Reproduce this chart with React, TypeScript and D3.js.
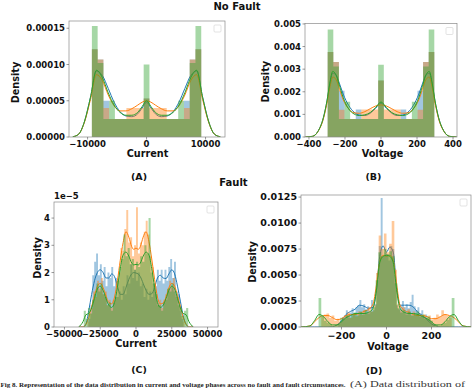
import React from "react";
import * as d3 from "d3";

const COLORS = ["#1f77b4", "#ff7f0e", "#2ca02c"];
const FONT = "DejaVu Sans, Verdana, sans-serif";

// ---------- (A) No fault, current — density in units of 1e-6
const binsA = [-9270, 9270];
const histA_blue = [121, 107, 50, 25, 25, 25, 25, 25, 25, 53, 25, 25, 25, 25, 25, 25, 50, 107, 121];
const histA_orange = [121, 107, 40, 25, 25, 25, 40, 40, 40, 53, 40, 40, 40, 25, 25, 25, 40, 107, 121];
const histA_green = [153, 102, 25, 50, 25, 25, 25, 25, 25, 100, 25, 25, 25, 25, 25, 50, 25, 102, 153];
const kdeXA = [-12500, -11500, -10500, -9500, -8500, -7500, -6500, -5500, -4500, -3500, -2500, -1500, -750, 0,
  750, 1500, 2500, 3500, 4500, 5500, 6500, 7500, 8500, 9500, 10500, 11500, 12500];
const kdeA_blue = [0.3, 4, 22, 55, 91, 85, 67, 48, 35, 29, 28, 32, 40, 48, 40, 32, 28, 29, 35, 48, 67, 85, 91, 55, 22, 4, 0.3];
const kdeA_orange = [0.3, 4, 21, 52, 86, 78, 58, 43, 36, 36, 39, 44, 48, 50, 48, 44, 39, 36, 36, 43, 58, 78, 86, 52, 21, 4, 0.3];
const kdeA_green = [0.3, 4, 22, 55, 92, 82, 61, 44, 34, 30, 30, 34, 42, 50, 42, 34, 30, 30, 34, 44, 61, 82, 92, 55, 22, 4, 0.3];
const xTicksA = [-10000, 0, 10000];
const xLabelsA = ["\u221210000", "0", "10000"];
const yTicksA = [0, 50, 100, 150];
const yLabelsA = ["0.00000", "0.00005", "0.00010", "0.00015"];

// ---------- (B) No fault, voltage — density in units of 1e-3
const binsB = [-296, 296];
const histB_blue = [3.76, 3.32, 2.05, 0.8, 0.8, 1.22, 0.8, 0.8, 0.8, 2.5, 0.8, 0.8, 0.8, 1.22, 0.8, 0.8, 2.05, 3.32, 3.76];
const histB_orange = [3.76, 3.32, 1.2, 0.8, 0.8, 0.8, 1.22, 1.22, 1.22, 2.5, 1.22, 1.22, 1.22, 0.8, 0.8, 0.8, 1.2, 3.32, 3.76];
const histB_green = [4.76, 3.12, 0.8, 1.56, 0.8, 0.8, 0.8, 0.8, 0.8, 3.2, 0.8, 0.8, 0.8, 0.8, 0.8, 1.56, 0.8, 3.12, 4.76];
const kdeXB = [-420, -380, -350, -320, -300, -285, -268, -250, -230, -210, -180, -150, -120, -90, -60, -30, 0,
  30, 60, 90, 120, 150, 180, 210, 230, 250, 268, 285, 300, 320, 350, 380, 420];
const kdeB_blue = [0, 0.03, 0.25, 0.85, 1.58, 2.3, 2.82, 2.75, 2.35, 1.9, 1.4, 1.1, 0.97, 0.95, 1.05, 1.27, 1.5,
  1.27, 1.05, 0.95, 0.97, 1.1, 1.4, 1.9, 2.35, 2.75, 2.82, 2.3, 1.58, 0.85, 0.25, 0.03, 0];
const kdeB_orange = [0, 0.03, 0.24, 0.8, 1.5, 2.15, 2.65, 2.55, 2.1, 1.65, 1.25, 1.07, 1.05, 1.12, 1.25, 1.37, 1.42,
  1.37, 1.25, 1.12, 1.05, 1.07, 1.25, 1.65, 2.1, 2.55, 2.65, 2.15, 1.5, 0.8, 0.24, 0.03, 0];
const kdeB_green = [0, 0.03, 0.25, 0.85, 1.6, 2.35, 2.9, 2.75, 2.25, 1.75, 1.25, 1.02, 0.95, 0.98, 1.08, 1.3, 1.55,
  1.3, 1.08, 0.98, 0.95, 1.02, 1.25, 1.75, 2.25, 2.75, 2.9, 2.35, 1.6, 0.85, 0.25, 0.03, 0];
const xTicksB = [-400, -200, 0, 200, 400];
const xLabelsB = ["\u2212400", "\u2212200", "0", "200", "400"];
const yTicksB = [0, 1, 2, 3, 4, 5];
const yLabelsB = ["0.000", "0.001", "0.002", "0.003", "0.004", "0.005"];

// ---------- (C) Fault, current — density in units of 1e-5
const binsC_blue = [-33200, 33200];
const binsC_orange = [-34000, 34000];
const binsC_green = [-36500, 36500];
const histC_blue = [0.3, 0.8, 1.9, 2.4, 2.7, 1.9, 2.3, 1.7, 2.2, 1.5, 2.0, 1.8, 2.2, 1.5, 1.8, 1.1, 1.3, 1.0, 1.5, 1.2,
  1.9, 1.6, 2.3, 1.8, 2.1, 1.7, 2.0, 1.5, 1.6, 1.1, 1.4, 1.0, 1.3, 1.1, 1.6, 1.5, 2.1, 1.7, 2.1, 1.6,
  2.1, 1.7, 2.2, 2.5, 1.8, 2.4, 1.3, 1.2, 0.6, 0.3];
const histC_orange = [0.2, 0.5, 0.7, 1.3, 1.1, 1.7, 1.4, 1.8, 1.2, 1.3, 0.8, 1.0, 0.7, 1.0, 1.1, 1.7, 2.0, 2.9, 2.8, 3.6,
  4.3, 3.1, 3.3, 2.6, 3.0, 4.4, 2.7, 3.1, 3.0, 3.5, 3.9, 3.4, 2.6, 2.2, 1.6, 1.2, 0.9, 1.0, 0.7, 1.0,
  1.2, 1.4, 1.7, 1.5, 1.8, 1.2, 1.1, 0.8, 0.4, 0.2];
const histC_green = [0.6, 0.3, 0.7, 0.5, 1.0, 1.2, 1.6, 1.3, 1.6, 1.2, 1.1, 0.8, 0.9, 0.6, 0.9, 1.1, 1.7, 2.2, 2.5, 3.4,
  2.6, 2.9, 2.3, 2.5, 2.1, 2.4, 2.2, 2.6, 2.4, 3.0, 2.7, 4.0, 2.0, 1.6, 1.2, 0.8, 0.8, 0.6, 0.9, 1.0,
  1.4, 1.3, 1.6, 1.3, 1.1, 0.8, 0.7, 0.4, 0.6, 0.7];
const kdeXC = [-40000, -37000, -35000, -33000, -31000, -29000, -27000, -25000, -23000, -21000, -19000, -17000,
  -15000, -13000, -11000, -9000, -7000, -5000, -3000, -1500, 0, 1500, 3000, 5000, 7000, 9000, 11000, 13000,
  15000, 17000, 19000, 21000, 23000, 25000, 27000, 29000, 31000, 33000, 35000, 37000, 40000];
const kdeC_blue = [0, 0, 0.1, 0.6, 1.2, 1.7, 2.0, 2.1, 2.0, 1.8, 1.8, 1.95, 1.85, 1.5, 1.2, 1.2, 1.45, 1.75, 1.95, 2.0,
  1.98, 1.95, 1.85, 1.6, 1.35, 1.2, 1.22, 1.45, 1.8, 1.9, 1.8, 1.78, 1.95, 2.1, 1.95, 1.5, 0.95, 0.4, 0.1, 0, 0];
const kdeC_orange = [0, 0, 0.1, 0.35, 0.75, 1.15, 1.5, 1.6, 1.45, 1.15, 0.9, 0.85, 1.1, 1.7, 2.45, 3.1, 3.5, 3.3, 2.95,
  2.85, 2.9, 2.85, 2.95, 3.3, 3.5, 3.15, 2.5, 1.75, 1.1, 0.85, 0.88, 1.1, 1.45, 1.6, 1.5, 1.15, 0.75, 0.35, 0.1, 0, 0];
const kdeC_green = [0, 0.2, 0.45, 0.5, 0.7, 1.05, 1.4, 1.5, 1.35, 1.05, 0.8, 0.72, 0.9, 1.45, 2.15, 2.65, 2.75, 2.6,
  2.35, 2.28, 2.3, 2.28, 2.35, 2.6, 2.75, 2.65, 2.15, 1.45, 0.9, 0.72, 0.8, 1.05, 1.35, 1.5, 1.4, 1.05, 0.7, 0.5,
  0.45, 0.2, 0];
const xTicksC = [-50000, -25000, 0, 25000, 50000];
const xLabelsC = ["\u221250000", "\u221225000", "0", "25000", "50000"];
const yTicksC = [0, 1, 2, 3, 4];
const yLabelsC = ["0", "1", "2", "3", "4"];

// ---------- (D) Fault, voltage — density in units of 1e-4
const binsD_blue = [-215, 215];
const binsD_orange = [-290, 290];
const binsD_green = [-302, 302];
const histD_blue = [3, 6, 9, 11, 16, 12, 14, 18, 13, 19, 21, 26, 19, 22, 17, 20, 15, 26, 16, 22,
  52, 78, 124, 68, 72, 70, 64, 78, 75, 50, 21, 17, 20, 25, 19, 22, 18, 24, 31, 20,
  16, 19, 13, 16, 10, 12, 7, 9, 5, 3];
const histD_orange = [10, 12, 13, 9, 11, 6, 8, 5, 9, 11, 14, 9, 13, 10, 15, 12, 16, 13, 19, 15,
  21, 52, 88, 75, 90, 72, 80, 102, 55, 22, 16, 19, 14, 17, 12, 15, 11, 13, 10, 12,
  9, 11, 7, 9, 12, 10, 16, 12, 11, 9];
const histD_green = [28, 11, 6, 4, 3, 1, 2, 3, 9, 8, 11, 9, 12, 14, 11, 15, 12, 16, 13, 15,
  19, 45, 72, 68, 75, 70, 73, 68, 42, 18, 14, 16, 12, 15, 11, 13, 15, 10, 12, 8,
  10, 6, 3, 2, 1, 3, 4, 7, 10, 28];
const kdeXD = [-380, -340, -320, -300, -280, -260, -240, -220, -200, -180, -160, -140, -120, -100, -80, -60, -45,
  -30, -15, 0, 15, 30, 45, 60, 80, 100, 120, 140, 160, 180, 200, 220, 240, 260, 280, 300, 320, 340, 380];
const kdeD_blue = [0, 0, 0, 0, 0, 0, 0.3, 2, 6, 12, 15, 17, 21, 20, 18, 19, 35, 68, 78, 72, 77, 72, 38, 21, 21, 21,
  19, 14, 11, 7, 3, 1, 0, 0, 0, 0, 0, 0, 0];
const kdeD_orange = [0, 1, 5, 9, 11, 11, 9, 7, 8, 11, 12, 12, 13, 15, 17, 22, 40, 63, 69, 68, 69, 64, 41, 21, 16, 14,
  12, 11, 11, 10, 8, 8, 10, 12, 11, 9, 5, 1, 0];
const kdeD_green = [0, 1, 6, 12, 10, 5, 2, 2, 5, 9, 11, 13, 13, 13, 14, 18, 35, 62, 68, 69, 68, 62, 36, 18, 14, 13,
  13, 12, 10, 8, 5, 2, 2, 5, 10, 12, 6, 1, 0];
const xTicksD = [-200, 0, 200];
const xLabelsD = ["\u2212200", "0", "200"];
const yTicksD = [0, 25, 50, 75, 100, 125];
const yLabelsD = ["0.0000", "0.0025", "0.0050", "0.0075", "0.0100", "0.0125"];

type PanelSpec = {
  id: string;
  l: number; r: number; t: number; b: number;
  xDomain: [number, number]; yDomain: [number, number];
  xTicks: number[]; xLabels: string[]; yTicks: number[]; yLabels: string[];
  ranges: number[][]; hists: number[][];
  kdeX: number[]; kdes: number[][];
  xLabel: string; xLabelX: number; xLabelY: number;
  yLabelX: number; yLabelY: number;
  xTickY: number; tickSize: number;
  tag: string; tagX: number; tagY: number;
  offsetText?: string;
};

const panels: PanelSpec[] = [
  {
    id: "A", l: 69, r: 225, t: 21, b: 137, xDomain: [-13150, 13300], yDomain: [0, 160],
    xTicks: xTicksA, xLabels: xLabelsA, yTicks: yTicksA, yLabels: yLabelsA,
    ranges: [binsA, binsA, binsA], hists: [histA_blue, histA_orange, histA_green],
    kdeX: kdeXA, kdes: [kdeA_blue, kdeA_orange, kdeA_green],
    xLabel: "Current", xLabelX: 147.5, xLabelY: 156.5, yLabelX: 19, yLabelY: 82.5,
    xTickY: 146.5, tickSize: 8.5, tag: "(A)", tagX: 139, tagY: 180,
  },
  {
    id: "B", l: 305, r: 457, t: 23.5, b: 137, xDomain: [-422, 422], yDomain: [0, 5.02],
    xTicks: xTicksB, xLabels: xLabelsB, yTicks: yTicksB, yLabels: yLabelsB,
    ranges: [binsB, binsB, binsB], hists: [histB_blue, histB_orange, histB_green],
    kdeX: kdeXB, kdes: [kdeB_blue, kdeB_orange, kdeB_green],
    xLabel: "Voltage", xLabelX: 382.5, xLabelY: 157, yLabelX: 269, yLabelY: 81.7,
    xTickY: 147, tickSize: 8.5, tag: "(B)", tagX: 373.5, tagY: 180,
  },
  {
    id: "C", l: 54, r: 218, t: 202, b: 327, xDomain: [-57300, 57300], yDomain: [0, 4.59],
    xTicks: xTicksC, xLabels: xLabelsC, yTicks: yTicksC, yLabels: yLabelsC,
    ranges: [binsC_blue, binsC_orange, binsC_green], hists: [histC_blue, histC_orange, histC_green],
    kdeX: kdeXC, kdes: [kdeC_blue, kdeC_orange, kdeC_green],
    xLabel: "Current", xLabelX: 136, xLabelY: 347, yLabelX: 40.5, yLabelY: 258,
    xTickY: 336.5, tickSize: 8.5, tag: "(C)", tagX: 139, tagY: 373, offsetText: "1e\u22125",
  },
  {
    id: "D", l: 301, r: 471, t: 195, b: 327, xDomain: [-380, 375.6], yDomain: [0, 127],
    xTicks: xTicksD, xLabels: xLabelsD, yTicks: yTicksD, yLabels: yLabelsD,
    ranges: [binsD_blue, binsD_orange, binsD_green], hists: [histD_blue, histD_orange, histD_green],
    kdeX: kdeXD, kdes: [kdeD_blue, kdeD_orange, kdeD_green],
    xLabel: "Voltage", xLabelX: 388, xLabelY: 349.5, yLabelX: 255.5, yLabelY: 262,
    xTickY: 339, tickSize: 9.5, tag: "(D)", tagX: 374, tagY: 374,
  },
];

function stepPath(range: number[], values: number[], x: d3.ScaleLinear<number, number>, y: d3.ScaleLinear<number, number>) {
  const n = values.length;
  const w = (range[1] - range[0]) / n;
  const p = d3.path();
  p.moveTo(x(range[0]), y(0));
  values.forEach((v, i) => {
    p.lineTo(x(range[0] + i * w), y(v));
    p.lineTo(x(range[0] + (i + 1) * w), y(v));
  });
  p.lineTo(x(range[1]), y(0));
  p.closePath();
  return p.toString();
}

const Panel: React.FC<{ p: PanelSpec }> = ({ p }) => {
  const x = d3.scaleLinear().domain(p.xDomain).range([p.l, p.r]);
  const y = d3.scaleLinear().domain(p.yDomain).range([p.b, p.t]);
  const line = d3
    .line<[number, number]>()
    .x((d) => x(d[0]))
    .y((d) => y(d[1]))
    .curve(d3.curveMonotoneX);
  const clipId = `clip-${p.id}`;

  return (
    <g>
      <defs>
        <clipPath id={clipId}>
          <rect x={p.l} y={p.t} width={p.r - p.l} height={p.b - p.t} />
        </clipPath>
      </defs>
      <g clipPath={`url(#${clipId})`}>
        {p.hists.map((h, si) => (
          <g key={si}>
            <path d={stepPath(p.ranges[si], h, x, y)} fill={COLORS[si]} fillOpacity={0.42} />
            <path
              d={line(p.kdeX.map((xx, k) => [xx, p.kdes[si][k]]) as [number, number][]) || ""}
              fill="none"
              stroke={COLORS[si]}
              strokeWidth={1}
            />
          </g>
        ))}
      </g>
      <rect x={p.l} y={p.t} width={p.r - p.l} height={p.b - p.t} fill="none" stroke="#8a8a8a" strokeWidth={0.7} />
      {/* empty legend box */}
      <rect x={p.r - 11} y={p.t + 4} width={7} height={7} rx={1} fill="white" stroke="#d0d0d0" strokeWidth={0.6} />
      {p.xTicks.map((t, i) => (
        <g key={`x${i}`}>
          <line x1={x(t)} x2={x(t)} y1={p.b} y2={p.b + 2.5} stroke="#555" strokeWidth={0.6} />
          <text x={x(t)} y={p.xTickY} textAnchor="middle" fontSize={p.tickSize} fontWeight="bold" fontFamily={FONT} fill="#111">
            {p.xLabels[i]}
          </text>
        </g>
      ))}
      {p.yTicks.map((t, i) => (
        <g key={`y${i}`}>
          <line x1={p.l - 2.5} x2={p.l} y1={y(t)} y2={y(t)} stroke="#555" strokeWidth={0.6} />
          <text x={p.l - 4} y={y(t)} dy="0.36em" textAnchor="end" fontSize={p.tickSize} fontWeight="bold" fontFamily={FONT} fill="#111">
            {p.yLabels[i]}
          </text>
        </g>
      ))}
      {p.offsetText && (
        <text x={p.l} y={p.t - 3} fontSize={p.tickSize} fontWeight="bold" fontFamily={FONT} fill="#111">
          {p.offsetText}
        </text>
      )}
      <text x={p.xLabelX} y={p.xLabelY} textAnchor="middle" fontSize={9.7} fontWeight="bold" fontFamily={FONT} fill="#111">
        {p.xLabel}
      </text>
      <text
        transform={`translate(${p.yLabelX},${p.yLabelY}) rotate(-90)`}
        textAnchor="middle"
        fontSize={9.7}
        fontWeight="bold"
        fontFamily={FONT}
        fill="#111"
      >
        Density
      </text>
      <text x={p.tagX} y={p.tagY} textAnchor="middle" fontSize={9.5} fontWeight="bold" fontFamily={FONT} fill="#111">
        {p.tag}
      </text>
    </g>
  );
};

export default function App() {
  return (
    <svg
      width={474}
      height={389}
      viewBox="0 0 474 389"
      style={{ position: "absolute", left: 0, top: 0, background: "white" }}
    >
      <rect width={474} height={389} fill="white" />
      <text x={237} y={9.5} textAnchor="middle" fontSize={10} fontWeight="bold" fontFamily={FONT} fill="#111">
        No Fault
      </text>
      <text x={233.5} y={186} textAnchor="middle" fontSize={10} fontWeight="bold" fontFamily={FONT} fill="#111">
        Fault
      </text>
      {panels.map((p) => (
        <Panel key={p.id} p={p} />
      ))}
      <text
        x={0.5}
        y={387}
        fontSize={6.2}
        fontWeight="bold"
        fontFamily="Liberation Serif, serif"
        fill="#222"
        textLength={345}
        lengthAdjust="spacingAndGlyphs"
      >
        Fig 8. Representation of the data distribution in current and voltage phases across no fault and fault circumstances.
      </text>
      <text
        x={350}
        y={387}
        fontSize={7.5}
        fontFamily="Liberation Serif, serif"
        fill="#333"
        textLength={115}
        lengthAdjust="spacingAndGlyphs"
      >
        (A) Data distribution of
      </text>
    </svg>
  );
}
